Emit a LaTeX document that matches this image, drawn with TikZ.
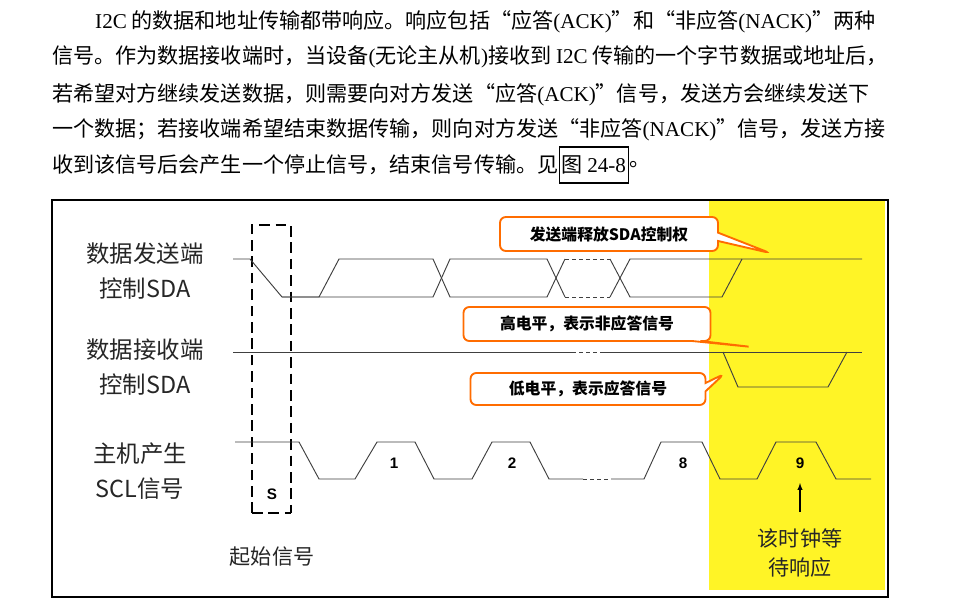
\documentclass[tikz,border=0pt]{standalone}
\usepackage{fontspec}
\setmainfont{Noto Sans CJK SC}
\newfontfamily\latinfont{Liberation Serif}
\newfontfamily\numfont{Liberation Sans}
\usetikzlibrary{positioning,calc,shapes.callouts}

\begin{document}
\begin{tikzpicture}[
    x=0.03cm, y=-0.03cm,
    sig/.style={draw=black!75, line width=0.8pt},
    gap/.style={sig, dashed},
    para/.style={anchor=west, inner sep=0pt, font=\fontsize{18}{20}\selectfont},
    lbl/.style={align=center, font=\fontsize{20}{30}\selectfont, text=black!85},
    num/.style={font=\numfont\bfseries\fontsize{13}{13}\selectfont},
    note/.style={rectangle callout, draw=orange!85!red, line width=1.6pt, fill=white,
      rounded corners=5pt, inner xsep=10pt, inner ysep=6pt,
      font=\fontsize{13.5}{14}\selectfont\bfseries},
    startbox/.style={line width=0.9pt, dash pattern=on 9pt off 5pt},
]
\useasboundingbox (0,0) rectangle (965,610);
\fill[white] (0,0) rectangle (965,610);

% Paragraph
\node[para] (l1) at (95,22) {{\latinfont I2C} 的数据和地址传输都带响应。响应包括“应答{\latinfont (ACK)}”和“非应答{\latinfont (NACK)}”两种};
\node[para] (l2) at (52,57) {信号。作为数据接收端时，当设备{\latinfont (}无论主从机{\latinfont )}接收到 {\latinfont I2C} 传输的一个字节数据或地址后，};
\node[para] (l3) at (52,95) {若希望对方继续发送数据，则需要向对方发送“应答{\latinfont (ACK)}”信号，发送方会继续发送下};
\node[para] (l4) at (52,130) {一个数据；若接收端希望结束数据传输，则向对方发送“非应答{\latinfont (NACK)}”信号，发送方接};
\node[para] (l5) at (52,165) {收到该信号后会产生一个停止信号，结束信号传输。见};
\node[para, right=0pt of l5, draw, line width=1pt, inner xsep=2pt, minimum height=36*0.03cm] (ref) {图 {\latinfont 24-8}};
\node[para, right=0pt of ref] (dot) {。};

% Frame and yellow zone
\fill[yellow!85!white] (709,200) rectangle (885,590);
\draw[line width=1.2pt] (52,200) rectangle (888,597);

% Labels
\node[lbl] (tx) at (145,271) {数据发送端\\控制SDA};
\node[lbl] (rx) at (145,367) {数据接收端\\控制SDA};
\node[lbl] (scl) at (140,471) {主机产生\\SCL信号};

% Start box
\draw[startbox] (252,513) -- (252,225) -- (291,225) -- (291,513);
\draw[startbox] (252,513) -- (291,513);
\node[num] (s) at (272,494) {S};
\node[lbl, font=\fontsize{18}{18}\selectfont] (start) at (272,557) {起始信号};

% Sender SDA
\draw[sig] (233,259) -- (250,259) -- (282,297) -- (319,297) -- (339,259) -- (433,259)
  -- (450,297) -- (547,297) -- (565,259);
\draw[sig] (282,297) -- (433,297) -- (450,259) -- (547,259) -- (565,297);
\draw[gap] (565,259) -- (610,259);
\draw[gap] (565,297) -- (610,297);
\draw[sig] (610,259) -- (630,297) -- (722,297) -- (742,259);
\draw[sig] (610,297) -- (630,259) -- (862,259);

% Receiver SDA
\draw[sig] (233,352) -- (572,352);
\draw[gap] (572,352) -- (602,352);
\draw[sig] (602,352) -- (862,352);
\draw[sig] (723,352) -- (738,387) -- (828,387) -- (847,352);

% SCL
\draw[sig] (235,442) -- (299,442) -- (319,479) -- (355,479) -- (377,442) -- (415,442)
  -- (434,479) -- (472,479) -- (492,442) -- (530,442) -- (549,479) -- (583,479);
\draw[gap] (583,479) -- (611,479);
\draw[sig] (611,479) -- (644,479) -- (661,442) -- (702,442) -- (720,479) -- (757,479)
  -- (776,442) -- (816,442) -- (836,479) -- (871,479);
\node[num] (b1) at (394,463) {1};
\node[num] (b2) at (512,463) {2};
\node[num] (b8) at (683,463) {8};
\node[num] (b9) at (800,463) {9};

% Callouts
\coordinate (p1) at (770,253);
\coordinate (p2) at (752,347);
\coordinate (p3) at (724,374);
\node[note, callout absolute pointer={(p1)}, minimum width=218*0.03cm, minimum height=34*0.03cm] (rel) at (609,234) {发送端释放SDA控制权};
\node[note, callout absolute pointer={(p2)}, minimum width=247*0.03cm, minimum height=34*0.03cm] (nack) at (587,324) {高电平，表示非应答信号};
\node[note, callout absolute pointer={(p3)}, minimum width=235*0.03cm, minimum height=32*0.03cm] (ack) at (588,389) {低电平，表示应答信号};

% Wait note
\coordinate (tip) at (800,483);
\node[lbl, font=\fontsize{18}{24}\selectfont] (wait) at (800,553) {该时钟等\\待响应};
\draw[-latex, line width=1pt] (800,512) -- (tip);
\end{tikzpicture}
\end{document}
